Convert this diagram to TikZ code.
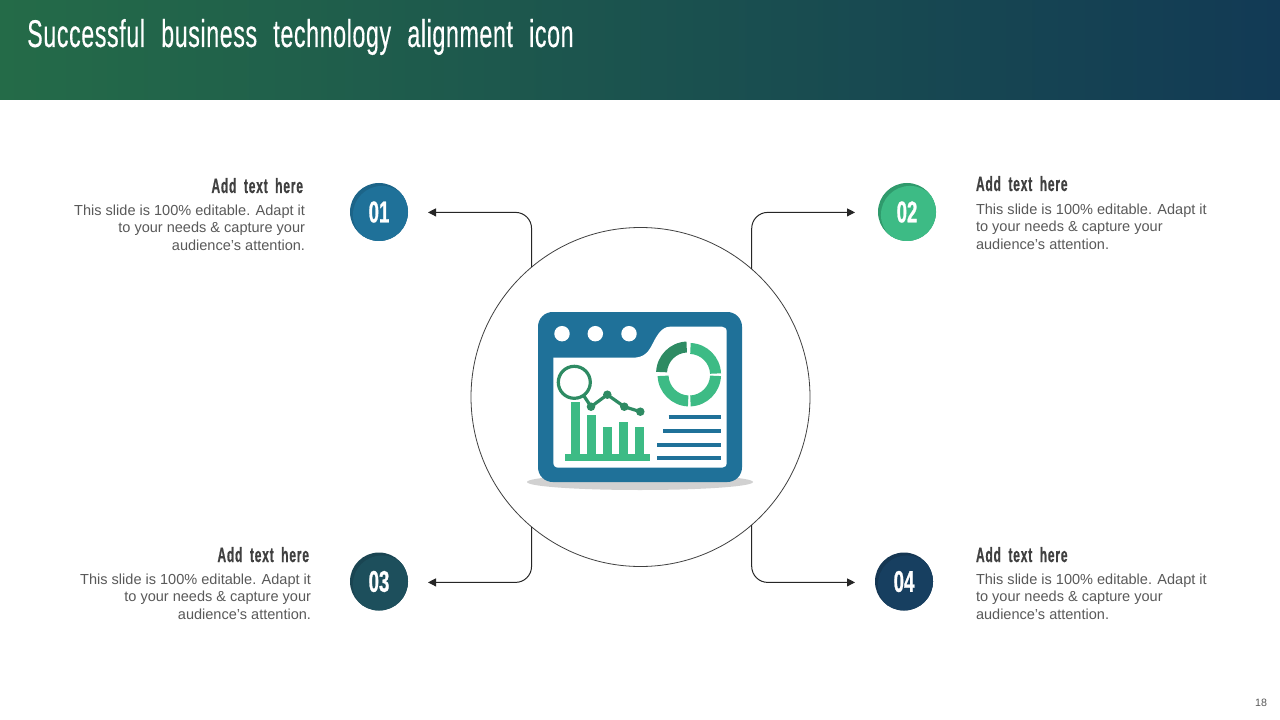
\documentclass[tikz,border=0pt]{standalone}
\usepackage{fontspec}
\setmainfont{Liberation Sans}
\newfontfamily\titlefont[FakeStretch=0.6,WordSpace=2.3,LetterSpace=1.6,FakeBold=0.3]{Liberation Sans}
\newfontfamily\headfont[FakeStretch=0.58,WordSpace=1.8,LetterSpace=4,FakeBold=0.6]{Liberation Sans Bold}
\newfontfamily\numfont[FakeStretch=0.62,FakeBold=0.8]{Liberation Sans Bold}
\usetikzlibrary{arrows.meta}
\definecolor{hdrL}{HTML}{246B48}
\definecolor{hdrR}{HTML}{123A55}
\definecolor{blueA}{HTML}{1F7199}
\definecolor{blueB}{HTML}{1C6488}
\definecolor{greenA}{HTML}{3DBB85}
\definecolor{greenB}{HTML}{2F9A6C}
\definecolor{tealA}{HTML}{1D4F5C}
\definecolor{tealB}{HTML}{1A4552}
\definecolor{navyA}{HTML}{173F60}
\definecolor{navyB}{HTML}{153753}
\definecolor{darkgreen}{HTML}{2E8B63}
\definecolor{bodygray}{HTML}{595959}
\definecolor{headgray}{HTML}{404040}
\newcommand{\bodycopy}{This slide is 100\% editable.\hspace{0.37em}Adapt it\\to your needs \& capture your\\audience’s attention.}
\tikzset{
  x=0.75pt,y=-0.75pt,
  connector/.style={draw=black!85,line width=0.75pt,rounded corners=12pt,-{Triangle[length=6pt,width=6pt]}},
  bodytext/.style={font=\fontsize{10.9}{13.1}\selectfont\frenchspacing,text=bodygray,inner sep=0pt,outer sep=0pt},
  headtext/.style={font=\headfont\fontsize{15.5}{18}\selectfont,text=headgray,inner sep=0pt,outer sep=0pt},
  numtext/.style={font=\numfont\fontsize{22.5}{24}\selectfont,text=white,inner sep=0pt},
  badgebase/.style={circle,minimum size=43.5pt,inner sep=0pt,outer sep=0pt},
  listline/.style={draw=blueA,line width=3pt},
  barshape/.style={fill=greenA,draw=none},
}
\newcommand{\badge}[5]{%
  \node[badgebase,fill=#4] (#1) at (#2) {};
  \begin{scope}
    \clip (#1.center) circle[radius=21.75pt];
    \fill[#3] ([shift={(2.2pt,-2.2pt)}]#1.center) circle[radius=21.75pt];
  \end{scope}
  \node[numtext] at (#1.center) {#5};
}
\begin{document}
\begin{tikzpicture}
\useasboundingbox (0,0) rectangle (1280,720);
\fill[white] (0,0) rectangle (1280,720);
\shade[left color=hdrL,right color=hdrR] (0,0) rectangle (1280,100);
\node[anchor=base west,inner sep=0pt,text=white,font=\titlefont\fontsize{29}{32}\selectfont] (title) at (27,47) {Successful business technology alignment icon};

% hub
\node[circle,draw=black!75,line width=0.6pt,minimum size=254.25pt,inner sep=0pt,outer sep=0pt] (hub) at (640.5,397) {};

% badges
\badge{b1}{379,212}{blueA}{blueB}{01}
\badge{b2}{907,212}{greenA}{greenB}{02}
\badge{b3}{379,581.5}{tealA}{tealB}{03}
\badge{b4}{904,581.5}{navyA}{navyB}{04}

% connectors
\coordinate (t1) at (428,212.4);
\coordinate (t2) at (855,212.4);
\coordinate (t3) at (428,582.4);
\coordinate (t4) at (855,582.4);
\draw[connector] (hub.130) |- (t1);
\draw[connector] (hub.49.3) |- (t2);
\draw[connector] (hub.230) |- (t3);
\draw[connector] (hub.-49.3) |- (t4);

% texts
\node[headtext,anchor=base east] (h1) at (303,193) {Add text here};
\node[bodytext,anchor=base east,align=right] (p1) at (305,250) {\bodycopy};
\node[headtext,anchor=base west] (h2) at (976,191) {Add text here};
\node[bodytext,anchor=base west,align=left] (p2) at (976,249) {\bodycopy};
\node[headtext,anchor=base east] (h3) at (309,562) {Add text here};
\node[bodytext,anchor=base east,align=right] (p3) at (311,619) {\bodycopy};
\node[headtext,anchor=base west] (h4) at (976,562) {Add text here};
\node[bodytext,anchor=base west,align=left] (p4) at (976,619) {\bodycopy};
\node[anchor=base,inner sep=0pt,text=bodygray,font=\fontsize{8}{10}\selectfont] (pg) at (1261,706) {18};

% icon
\fill[black!18] (640,482) ellipse[x radius=84.75pt,y radius=6pt];
\fill[blueA,rounded corners=11pt] (538,312) rectangle (742,482);
\fill[white,rounded corners=0pt] (553.3,357.7) -- (633,357.7)
  .. controls (645,357.7) and (649,351) .. (653,343)
  .. controls (657,335) and (662,326.7) .. (670,326.7)
  -- (722,326.7) .. controls (725,326.7) and (726.7,328.5) .. (726.7,332)
  -- (726.7,462) .. controls (726.7,466) and (725,467.7) .. (722,467.7)
  -- (559,467.7) .. controls (555,467.7) and (553.3,466) .. (553.3,462) -- cycle;
\foreach \cx in {562,595.3,629}{\fill[white] (\cx,333.7) circle[radius=5.8pt];}

% donut
\begin{scope}[shift={(689.3,374.7)}]
  \fill[greenA] (2.5:23.8pt) arc[start angle=2.5,end angle=87.5,radius=23.8pt] -- (87.5:15.6pt) arc[start angle=87.5,end angle=2.5,radius=15.6pt] -- cycle;
  \fill[greenA] (-2.5:23.8pt) arc[start angle=-2.5,end angle=-87.5,radius=23.8pt] -- (-87.5:15.6pt) arc[start angle=-87.5,end angle=-2.5,radius=15.6pt] -- cycle;
  \fill[greenA] (-92.5:23.8pt) arc[start angle=-92.5,end angle=-177.5,radius=23.8pt] -- (-177.5:15.6pt) arc[start angle=-177.5,end angle=-92.5,radius=15.6pt] -- cycle;
  \fill[darkgreen,shift={(-1.1pt,1.1pt)}] (92.5:23.8pt) arc[start angle=92.5,end angle=177.5,radius=23.8pt] -- (177.5:15.6pt) arc[start angle=177.5,end angle=92.5,radius=15.6pt] -- cycle;
\end{scope}

% bars
\fill[barshape] (565,454) rectangle (649.5,461);
\fill[barshape] (570.7,401.7) rectangle (580,455);
\fill[barshape] (587,415) rectangle (596,455);
\fill[barshape] (603,427) rectangle (612,455);
\fill[barshape] (619,421.7) rectangle (628,455);
\fill[barshape] (635,427) rectangle (644,455);

% magnifier and trend
\draw[darkgreen,line width=2.4pt] (574.3,382.3) circle[radius=12pt];
\draw[darkgreen,line width=2.4pt] (584,396) -- (591,406.7) -- (607.3,394.7) -- (624.3,406.7) -- (640.3,411.7);
\foreach \px/\py in {591/406.7,607.3/394.7,624.3/406.7,640.3/411.7}{\fill[darkgreen] (\px,\py) circle[radius=3.2pt];}

% list lines
\draw[listline] (668.7,417.3) -- (720.7,417.3);
\draw[listline] (663.3,431) -- (720.7,431);
\draw[listline] (657.3,444.7) -- (720.7,444.7);
\draw[listline] (657.3,458.3) -- (720.7,458.3);
\end{tikzpicture}
\end{document}
